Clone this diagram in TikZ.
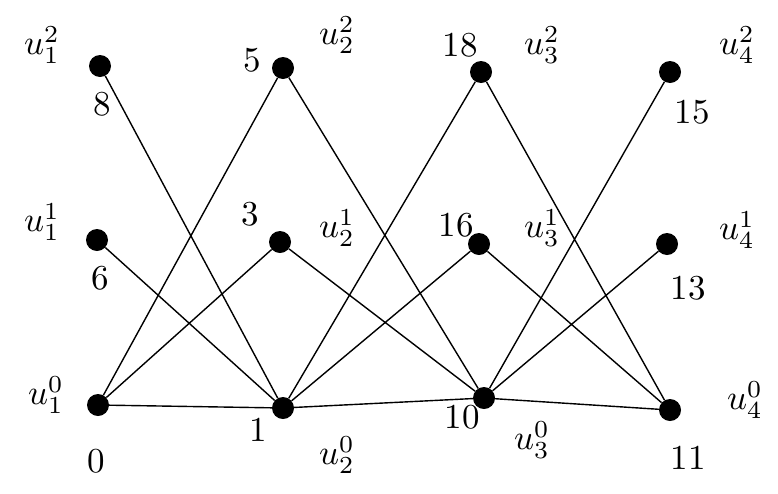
\documentclass[tikz,border=0pt]{standalone}
\usepackage{graphicx}
\newcommand{\bigtxt}[1]{\scalebox{3.5}{#1}}
\begin{document}
\begin{tikzpicture}[x=1pt,y=-1pt,
  dot/.style={circle,fill=black,inner sep=0pt,minimum size=22pt},
  lab/.style={inner sep=1pt},
  edge/.style={line width=1.4pt}]
\useasboundingbox (0,0) rectangle (778,493);
\node[dot] (a2) at (100,66) {};
\node[dot] (a1) at (97,240) {};
\node[dot] (a0) at (98,405) {};
\node[dot] (b2) at (283,68) {};
\node[dot] (b1) at (280,242) {};
\node[dot] (b0) at (283,408) {};
\node[dot] (c2) at (481,72) {};
\node[dot] (c1) at (479,244) {};
\node[dot] (c0) at (484,398) {};
\node[dot] (d2) at (670,72) {};
\node[dot] (d1) at (667,244) {};
\node[dot] (d0) at (670,410) {};
\draw[edge] (a0)--(b0) (b0)--(c0) (c0)--(d0);
\draw[edge] (a0)--(b2) (a0)--(b1) (a2)--(b0) (a1)--(b0);
\draw[edge] (b0)--(c2) (b0)--(c1) (b2)--(c0) (b1)--(c0);
\draw[edge] (c0)--(d2) (c0)--(d1) (c2)--(d0) (c1)--(d0);
\node[lab] (t8) at (102,104) {\bigtxt{8}};
\node[lab] (t6) at (100,278) {\bigtxt{6}};
\node[lab] (t0) at (96,461) {\bigtxt{0}};
\node[lab] (t5) at (252,60) {\bigtxt{5}};
\node[lab] (t3) at (250,214) {\bigtxt{3}};
\node[lab] (t1) at (258,430) {\bigtxt{1}};
\node[lab] (t18) at (460,45) {\bigtxt{18}};
\node[lab] (t16) at (456,225) {\bigtxt{16}};
\node[lab] (t10) at (462,417) {\bigtxt{10}};
\node[lab] (t15) at (692,112) {\bigtxt{15}};
\node[lab] (t13) at (688,288) {\bigtxt{13}};
\node[lab] (t11) at (688,458) {\bigtxt{11}};
\node[lab] (l12) at (42,45) {\bigtxt{$u_1^2$}};
\node[lab] (l11) at (42,222) {\bigtxt{$u_1^1$}};
\node[lab] (l10) at (46,395) {\bigtxt{$u_1^0$}};
\node[lab] (l22) at (337,35) {\bigtxt{$u_2^2$}};
\node[lab] (l21) at (337,228) {\bigtxt{$u_2^1$}};
\node[lab] (l20) at (337,455) {\bigtxt{$u_2^0$}};
\node[lab] (l32) at (542,45) {\bigtxt{$u_3^2$}};
\node[lab] (l31) at (542,228) {\bigtxt{$u_3^1$}};
\node[lab] (l30) at (532,440) {\bigtxt{$u_3^0$}};
\node[lab] (l42) at (737,45) {\bigtxt{$u_4^2$}};
\node[lab] (l41) at (737,230) {\bigtxt{$u_4^1$}};
\node[lab] (l40) at (745,400) {\bigtxt{$u_4^0$}};
\end{tikzpicture}
\end{document}
